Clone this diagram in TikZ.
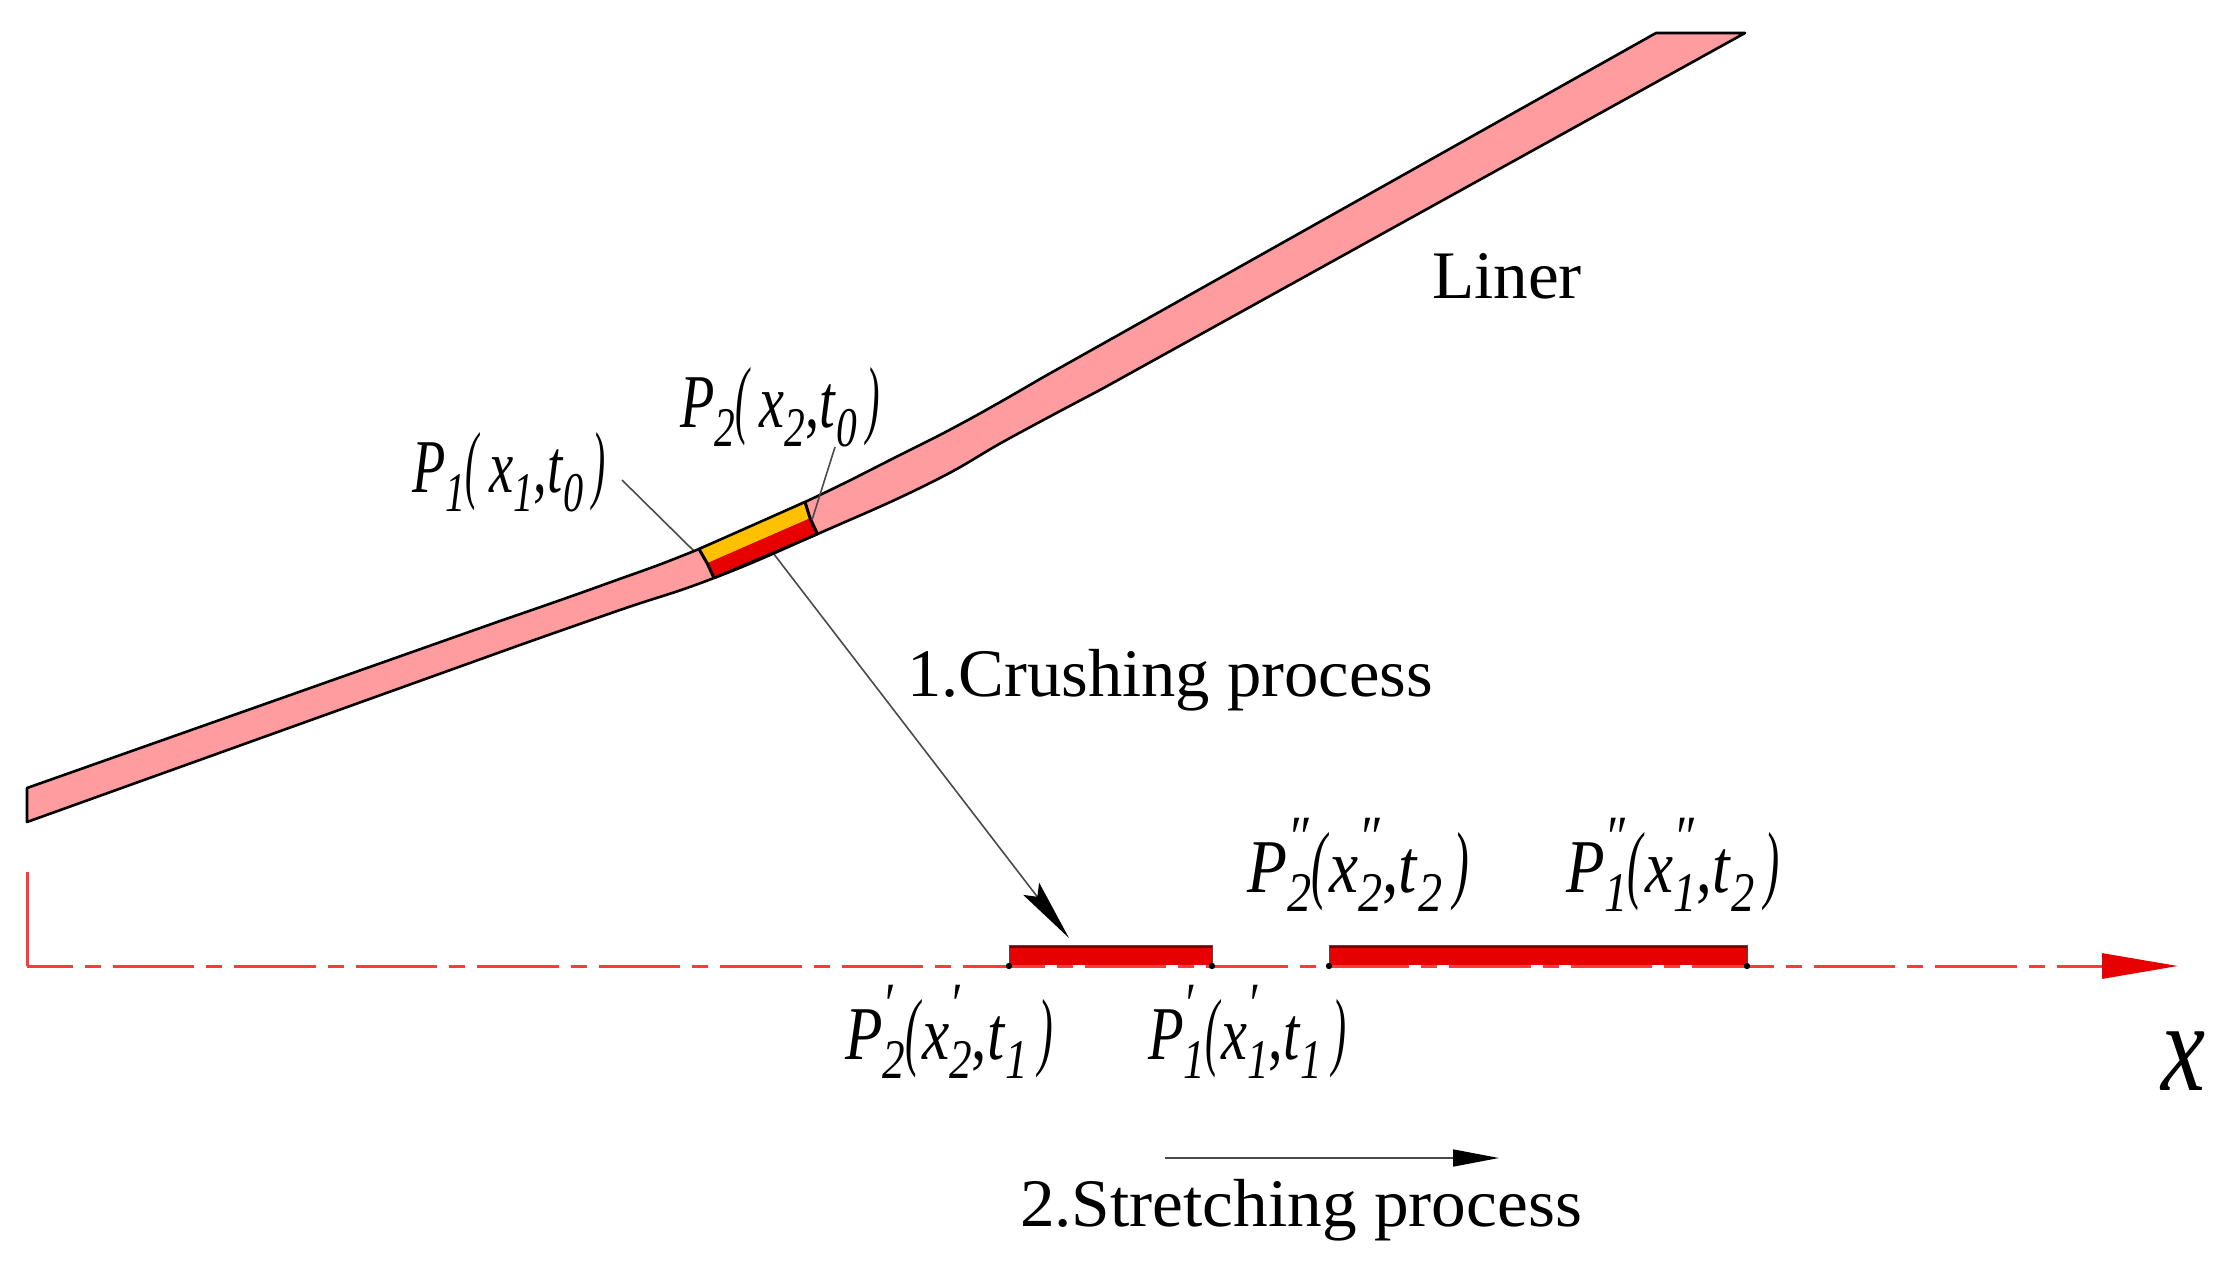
\documentclass[tikz,border=0pt]{standalone}
\usepackage{fontspec}
\usepackage{graphicx}
\setmainfont{Liberation Serif}
\usetikzlibrary{arrows.meta}
\definecolor{linerpink}{HTML}{FF9CA0}
\definecolor{solidred}{HTML}{E60000}
\definecolor{axisred}{HTML}{FF3A3A}
\definecolor{gold}{HTML}{FFC000}
\definecolor{leader}{HTML}{4A4A4A}
\newcommand{\fitw}[2]{\resizebox{#1}{\height}{#2}}
\newcommand{\Pa}[1]{\scalebox{.72}[1.14]{\textit{#1}}}
\newcommand{\Sb}[1]{\raisebox{-.26em}{\fontsize{28}{30}\selectfont\itshape #1}}
\newcommand{\SbP}[2]{\rlap{\raisebox{.46em}{\fontsize{30}{32}\selectfont\itshape #2}}\Sb{#1}}
\newcommand{\LabelA}[3]{\textit{P}\Sb{#1}\Pa{(}\,\textit{x}\Sb{#2},\textit{t}\Sb{#3}\,\Pa{)}}
\newcommand{\LabelB}[4]{\textit{P}\SbP{#1}{#4}\Pa{(}\textit{x}\SbP{#2}{#4},\textit{t}\Sb{#3}\,\Pa{)}}
\tikzset{
  x=0.5pt,y=-0.5pt,
  lbl/.style={anchor=base west,inner sep=0pt,outer sep=0pt,font=\fontsize{38}{44}\selectfont},
  txt/.style={anchor=base west,inner sep=0pt,outer sep=0pt,font=\fontsize{34}{40}\selectfont},
  outline/.style={draw=black,line width=1.3pt,line join=round},
  leaderline/.style={draw=leader,line width=.8pt},
  bar/.style={fill=solidred,draw=none},
}
\begin{document}
\begin{tikzpicture}
\useasboundingbox (0,0) rectangle (2228,1268);
% named points
\coordinate (leadA) at (622,480);
\coordinate (hidA) at (700,557);
\coordinate (hidB) at (760,536);
\coordinate (tipA) at (1069,938);
\coordinate (leadB) at (835,447);
\coordinate (leadBend) at (812,520);
\coordinate (axisO) at (27,966);
\coordinate (axisTop) at (27,872);
\coordinate (axisEnd) at (2178,966);
\coordinate (strA) at (1165,1158);
\coordinate (strB) at (1499,1158);
% crushing arrow, passes beneath the liner
\draw[leaderline,-{Stealth[length=31pt,width=10pt,inset=5pt,black]}] (leadA) -- (hidA) -- (hidB) -- (tipA);
% liner
\draw[outline,fill=linerpink] (27,822) -- (27,788) -- (500,621)
  -- plot[smooth,tension=.8] coordinates {(500,621) (600,586) (699,549) (805,502) (900,455) (968,420) (1040,379)}
  -- (1656,33) -- (1745,33) -- (1100,390)
  -- plot[smooth,tension=.8] coordinates {(1100,390) (1010,438) (930,483) (817.5,534) (714,578) (620,610) (520,645)}
  -- cycle;
% marked element
\fill[solidred] (707,563) -- (810,518) -- (817.5,534) -- (714,578) -- cycle;
\fill[gold] (699,549) -- (805,502) -- (810,518) -- (707,563) -- cycle;
\draw[outline] (699,549) -- (805,502);
\draw[outline] (714,578) -- (817.5,534);
\draw[black,line width=1.5pt] (699,549) -- (707,563) -- (714,578);
\draw[black,line width=1.5pt] (805,502) -- (810,518) -- (817.5,534);
\draw[leaderline] (leadB) -- (leadBend);
% bars on the axis
\fill[bar] (1009,945) rectangle (1212,965);
\fill[bar] (1329,945) rectangle (1747,965);
\fill[black!55!red] (1009,945) rectangle (1212,948);
\fill[black!55!red] (1329,945) rectangle (1747,948);
\draw[black!70,line width=.5pt] (1009,966) -- (1009,945) -- (1212,945) -- (1212,966);
\draw[black!70,line width=.5pt] (1329,966) -- (1329,945) -- (1747,945) -- (1747,966);
% axis
\draw[axisred,line width=1.5pt] (axisTop) -- (axisO);
\draw[axisred,line width=1.5pt,dash pattern=on 40.75pt off 6pt on 8pt off 6pt,dash phase=18pt,
  -{Triangle[length=38pt,width=12.5pt,solidred]}] (axisO) -- (axisEnd);
\foreach \px in {1009,1212,1329,1747}
  \fill[black] (\px,966) circle (1.6pt);
% stretching arrow
\draw[leaderline,-{Triangle[length=23pt,width=8.5pt,black]}] (strA) -- (strB);
% texts
\node[txt] (liner) at (1432,298) {\fitw{75pt}{Liner}};
\node[txt] (crush) at (907,696) {\fitw{263pt}{1.Crushing process}};
\node[txt] (stretch) at (1020,1226) {\fitw{281pt}{2.Stretching process}};
\node[lbl] (p1) at (412,492) {\fitw{97pt}{\LabelA{1}{1}{0}}};
\node[lbl] (p2) at (680,427) {\fitw{100pt}{\LabelA{2}{2}{0}}};
\node[lbl] (p2b) at (1247,892) {\fitw{111pt}{\LabelB{2}{2}{2}{″}}};
\node[lbl] (p1b) at (1566,892) {\fitw{107pt}{\LabelB{1}{1}{2}{″}}};
\node[lbl] (p2a) at (845,1059) {\fitw{104pt}{\LabelB{2}{2}{1}{′}}};
\node[lbl] (p1a) at (1148,1059) {\fitw{99pt}{\LabelB{1}{1}{1}{′}}};
\node[anchor=base west,inner sep=0pt,font=\fontsize{64}{70}\selectfont] (xlab) at (2161,1090) {\fitw{22pt}{\textit{x}}};
\end{tikzpicture}
\end{document}
